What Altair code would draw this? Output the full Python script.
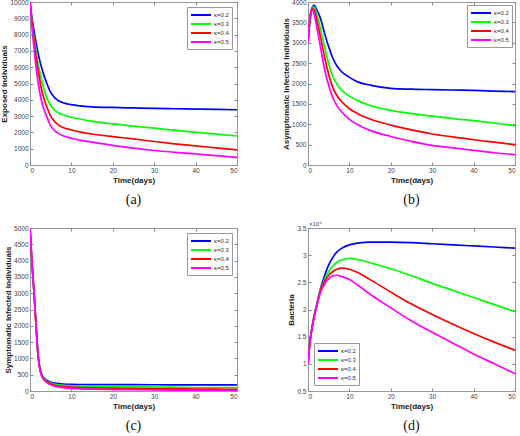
import altair as alt
import pandas as pd

# Parameter values and line colours (MATLAB b, g, r, m)
kappa_labels = ["κ=0.2", "κ=0.3", "κ=0.4", "κ=0.5"]
line_colors = ["#0000FF", "#00FF00", "#FF0000", "#FF00FF"]

# (a) Exposed individuals
t_exposed = [0, 0.5, 1, 1.5, 2, 3, 4, 5, 6, 7, 8, 10, 12, 15, 20, 25, 30, 35, 40, 45, 50]
exposed_k02 = [10000, 9000, 8200, 7450, 6800, 5800, 5050, 4450, 4120, 3930, 3820, 3700, 3630, 3570, 3530, 3500, 3470, 3450, 3430, 3410, 3390]
exposed_k03 = [10000, 8800, 7800, 6900, 6150, 5000, 4150, 3650, 3350, 3180, 3080, 2930, 2820, 2680, 2520, 2390, 2260, 2130, 2010, 1890, 1780]
exposed_k04 = [10000, 8650, 7500, 6550, 5750, 4400, 3600, 3000, 2650, 2430, 2300, 2150, 2030, 1900, 1740, 1600, 1440, 1300, 1170, 1050, 930]
exposed_k05 = [10000, 8400, 7100, 5900, 5000, 3700, 3000, 2400, 2100, 1910, 1790, 1640, 1530, 1400, 1200, 1030, 890, 780, 680, 570, 470]

# (b) Asymptomatic infected individuals
t_asym = [0, 0.5, 1, 1.5, 2, 3, 4, 5, 6, 7, 8, 10, 12, 15, 20, 25, 30, 35, 40, 45, 50]
asym_k02 = [3000, 3550, 3860, 3925, 3830, 3600, 3230, 2900, 2620, 2430, 2300, 2150, 2040, 1960, 1880, 1860, 1850, 1840, 1830, 1815, 1800]
asym_k03 = [3000, 3600, 3870, 3880, 3740, 3350, 2900, 2480, 2170, 1980, 1850, 1690, 1580, 1460, 1340, 1260, 1200, 1140, 1090, 1030, 965]
asym_k04 = [3000, 3630, 3850, 3800, 3600, 3150, 2650, 2220, 1900, 1700, 1570, 1380, 1260, 1130, 980, 860, 760, 690, 620, 560, 500]
asym_k05 = [3000, 3650, 3820, 3700, 3450, 2900, 2350, 1950, 1650, 1450, 1320, 1120, 990, 850, 700, 580, 480, 420, 360, 300, 255]

# (c) Symptomatic infected individuals
t_sym = [0, 0.5, 1, 1.5, 2, 2.5, 3, 4, 5, 6, 7, 8, 10, 12, 15, 20, 25, 30, 35, 40, 45, 50]
sym_k02 = [5000, 3900, 3000, 1950, 1050, 650, 470, 330, 270, 240, 225, 215, 205, 200, 197, 195, 193, 191, 189, 187, 186, 185]
sym_k03 = [5000, 3890, 2980, 1930, 1030, 630, 450, 305, 240, 205, 185, 172, 160, 152, 145, 137, 130, 122, 115, 108, 104, 100]
sym_k04 = [5000, 3880, 2960, 1910, 1010, 610, 430, 285, 215, 175, 150, 135, 118, 108, 98, 88, 80, 72, 66, 60, 55, 50]
sym_k05 = [5000, 3870, 2940, 1890, 990, 590, 410, 265, 190, 145, 118, 100, 80, 68, 56, 45, 38, 32, 28, 25, 22, 20]

# (d) Bacteria, in units of 10^4
t_bac = [0, 0.5, 1, 1.5, 2, 3, 4, 5, 6, 7, 8, 10, 12, 15, 20, 25, 30, 35, 40, 45, 50]
bac_k02 = [1.0, 1.42, 1.68, 1.88, 2.05, 2.38, 2.62, 2.82, 2.96, 3.06, 3.12, 3.19, 3.22, 3.24, 3.24, 3.23, 3.21, 3.19, 3.17, 3.15, 3.13]
bac_k03 = [1.0, 1.42, 1.68, 1.88, 2.05, 2.36, 2.56, 2.70, 2.80, 2.87, 2.91, 2.94, 2.92, 2.86, 2.75, 2.62, 2.48, 2.35, 2.22, 2.09, 1.96]
bac_k04 = [1.0, 1.42, 1.68, 1.88, 2.04, 2.34, 2.52, 2.63, 2.70, 2.74, 2.76, 2.74, 2.68, 2.55, 2.32, 2.10, 1.91, 1.73, 1.56, 1.40, 1.25]
bac_k05 = [1.0, 1.42, 1.67, 1.87, 2.03, 2.31, 2.47, 2.57, 2.62, 2.63, 2.61, 2.55, 2.45, 2.28, 2.03, 1.79, 1.58, 1.38, 1.18, 1.00, 0.82]

x_ticks = [0, 10, 20, 30, 40, 50]

FONT = "Liberation Sans"
PW, PH = 207, 163
# legend key: a horizontal stroke, longer than the symbol's nominal size, starting at its left edge
KEY_PATH = "M-1,0H4"


def long_table(times, series):
    rows = []
    for lab, vals in zip(kappa_labels, series):
        for t, v in zip(times, vals):
            rows.append({"t": t, "v": v, "k": lab})
    return pd.DataFrame(rows)


def panel(times, series, ytitle, ydomain, yticks, yformat, caption, legend_orient, legend_offset,
          extra=()):
    df = long_table(times, series)
    xsc = alt.Scale(domain=[0, 50], nice=False, zero=False)
    ysc = alt.Scale(domain=ydomain, nice=False, zero=False)
    lines = alt.Chart(df).mark_line(strokeWidth=1.7, interpolate="monotone", clip=True).encode(
        x=alt.X("t:Q", scale=xsc,
                axis=alt.Axis(values=x_ticks, title="Time(days)", orient="bottom", offset=-3,
                              labelPadding=2, titlePadding=3, format="d")),
        y=alt.Y("v:Q", scale=ysc,
                axis=alt.Axis(values=yticks, title=ytitle, orient="left", offset=-3,
                              labelPadding=2, titlePadding=1, format=yformat)),
        color=alt.Color("k:N", scale=alt.Scale(domain=kappa_labels, range=line_colors),
                        legend=alt.Legend(title=None, orient=legend_orient, offset=legend_offset,
                                          fillColor="white", strokeColor="#999",
                                          padding=3,
                                          symbolType=KEY_PATH, symbolSize=64, symbolStrokeWidth=2,
                                          rowPadding=0, labelFont=FONT, labelFontSize=6,
                                          labelColor="#333", labelOffset=14)),
    )
    # inward ticks on the top and right edges of the box
    frame = alt.Chart(df).mark_line(opacity=0).encode(
        x=alt.X("t:Q", scale=xsc,
                axis=alt.Axis(values=x_ticks, orient="top", labels=False, title=None, offset=-3)),
        y=alt.Y("v:Q", scale=ysc,
                axis=alt.Axis(values=yticks, orient="right", labels=False, title=None, offset=-3)),
    )
    return alt.layer(lines, frame, *extra).properties(
        width=PW, height=PH,
        title=alt.TitleParams(caption, orient="bottom", font="Liberation Serif", fontSize=14,
                              fontWeight="normal", color="#111", offset=8, anchor="middle"),
    )


# axis multiplier shown above the Bacteria panel
exponent = alt.Chart(pd.DataFrame({"s": ["×10⁴"]})).mark_text(
    align="left", baseline="bottom", font=FONT, fontSize=6, color="#444"
).encode(text="s:N", x=alt.value(1), y=alt.value(-1))

pa = panel(t_exposed, [exposed_k02, exposed_k03, exposed_k04, exposed_k05],
           "Exposed Individuals", [0, 10000], list(range(0, 10001, 1000)), "d",
           "(a)", "top-right", 5)
pb = panel(t_asym, [asym_k02, asym_k03, asym_k04, asym_k05],
           "Asymptomatic Infected Individuals", [0, 4000], list(range(0, 4001, 500)), "d",
           "(b)", "top-right", 3)
pc = panel(t_sym, [sym_k02, sym_k03, sym_k04, sym_k05],
           "Symptomatic Infected Individuals", [0, 5000], list(range(0, 5001, 500)), "d",
           "(c)", "top-right", 5)
pd_ = panel(t_bac, [bac_k02, bac_k03, bac_k04, bac_k05],
            "Bacteria", [0.5, 3.5], [0.5, 1, 1.5, 2, 2.5, 3, 3.5], ".1~f",
            "(d)", "bottom-left", 6, extra=(exponent,))

chart = alt.concat(pa, pb, pc, pd_, columns=2, spacing={"row": 63, "column": 71}, bounds="flush").resolve_scale(
    color="independent"
).configure(
    padding={"left": 0, "top": -2, "right": 0, "bottom": 0},
    background="white",
).configure_view(
    stroke="#999", strokeWidth=1
).configure_axis(
    labelFont=FONT, labelFontSize=6.5, labelColor="#444",
    titleFont=FONT, titleFontSize=8, titleFontWeight="bold", titleColor="#222",
    tickColor="#888", tickSize=3, domain=False, grid=False,
)

chart.save("out.html", embed_options={"renderer": "svg", "actions": False})
